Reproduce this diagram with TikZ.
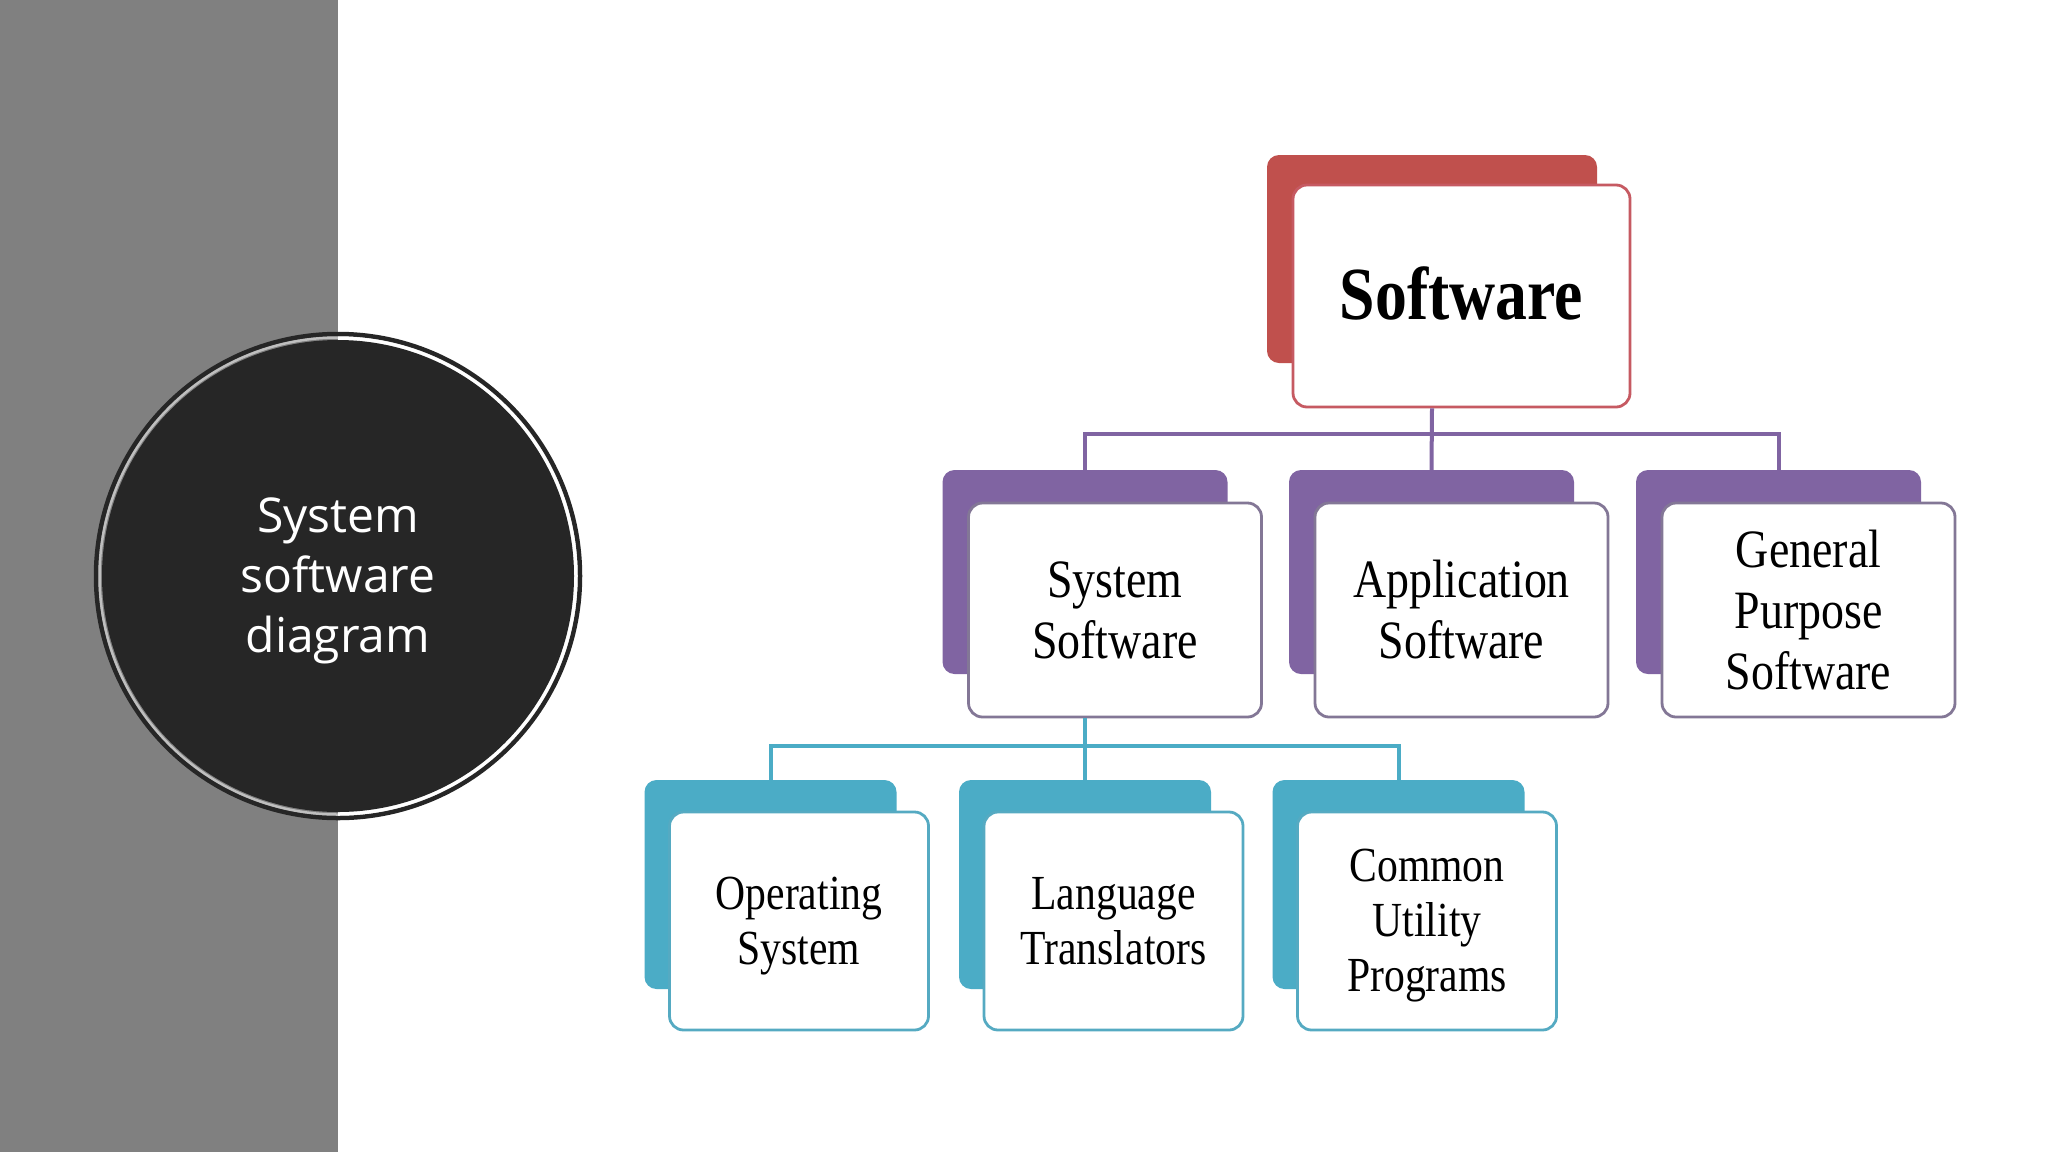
\documentclass[tikz,border=0pt]{standalone}
\usepackage{fontspec}
\newfontfamily\boxfont[FakeStretch=0.85]{Liberation Serif}
\newfontfamily\titlefont{Open Sans}
\definecolor{greyband}{HTML}{808080}
\definecolor{disk}{HTML}{262626}
\definecolor{ored}{HTML}{C0504D}
\definecolor{opurple}{HTML}{8064A2}
\definecolor{oteal}{HTML}{4BACC6}
\definecolor{rededge}{HTML}{C65A62}
\definecolor{purpleedge}{HTML}{837796}
\definecolor{tealedge}{HTML}{55AAC2}
\newcommand{\shiftlines}[2]{\raisebox{#1}[\height][\depth]{\begin{tabular}{@{}c@{}}#2\end{tabular}}}
\tikzset{
  backbox/.style={rectangle, rounded corners=12pt, inner sep=0pt},
  frontbox/.style={rectangle, rounded corners=14pt, inner sep=0pt, fill=white, line width=2.8pt, align=center, text=black},
  topback/.style={backbox, fill=ored, minimum width=330pt, minimum height=208pt},
  topfront/.style={frontbox, draw=rededge, minimum width=337pt, minimum height=222pt, font=\boxfont\bfseries\fontsize{75}{80}\selectfont},
  midback/.style={backbox, fill=opurple, minimum width=285pt, minimum height=204pt},
  midfront/.style={frontbox, draw=purpleedge, minimum width=293pt, minimum height=214pt, font=\boxfont\fontsize{54}{61}\selectfont},
  lowback/.style={backbox, fill=oteal, minimum width=252pt, minimum height=209pt},
  lowfront/.style={frontbox, draw=tealedge, minimum width=259pt, minimum height=218pt, font=\boxfont\fontsize{49}{55}\selectfont},
  pline/.style={draw=opurple, line width=4pt},
  tline/.style={draw=oteal, line width=4pt},
}
\begin{document}
\begin{tikzpicture}[x=1pt,y=-1pt]
\useasboundingbox (0,0) rectangle (2048,1152);
\fill[white] (0,0) rectangle (2048,1152);
\fill[greyband] (0,0) rectangle (338,1152);

% title circle
\node[circle, fill=disk, minimum size=472pt, inner sep=0pt, text=white, align=center,
      font=\titlefont\fontsize{48}{60}\selectfont] (title) at (338,576) {\shiftlines{-4pt}{System\\software\\diagram}};
\draw[disk, line width=4.5pt] (title.center) circle[radius=242pt];
\draw[white, opacity=0.5, line width=2.5pt] (title.center) circle[radius=238.5pt];

% top level
\node[topback] (swb) at (1432,259) {};
\node[topfront] (sw) at (1461.5,296) {\raisebox{3pt}[\height][\depth]{Software}};

% middle level
\node[midback] (ssb) at (1085,572) {};
\node[midfront] (ss) at (1115,610) {System\\Software};
\node[midback] (asb) at (1431.5,572) {};
\node[midfront] (as) at (1461.5,610) {Application\\Software};
\node[midback] (gpb) at (1778.5,572) {};
\node[midfront] (gp) at (1808.5,610) {General\\Purpose\\Software};

% lower level
\node[lowback] (osb) at (770.5,884.5) {};
\node[lowfront] (os) at (799,921) {\shiftlines{-5pt}{Operating\\System}};
\node[lowback] (ltb) at (1085,884.5) {};
\node[lowfront] (lt) at (1113.5,921) {\shiftlines{-5pt}{Language\\Translators}};
\node[lowback] (cub) at (1398.5,884.5) {};
\node[lowfront] (cu) at (1427,921) {\shiftlines{-4pt}{Common\\Utility\\Programs}};

% connectors
\coordinate (j1) at (1432,434);
\coordinate (j2) at (1085,746);
\draw[pline] (ssb.north) |- (j1) -| (gpb.north);
\draw[pline] (sw.south -| j1) -- (asb.north);
\draw[tline] (osb.north) |- (j2) -| (cub.north);
\draw[tline] (ss.south -| j2) -- (ltb.north);
\end{tikzpicture}
\end{document}
